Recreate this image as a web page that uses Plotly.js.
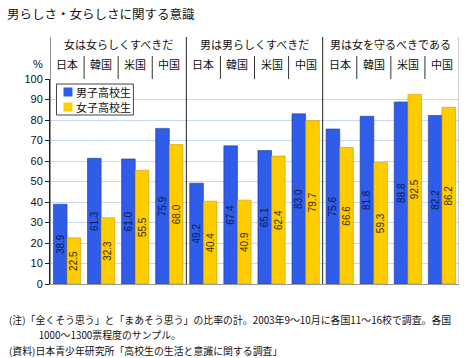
<!DOCTYPE html>
<html><head><meta charset="utf-8">
<script src="https://cdn.plot.ly/plotly-3.0.1.min.js"></script>
<style>body{margin:0;background:#fff}#c{width:474px;height:358px}</style>
</head><body><div id="c"></div>
<script>
const groups = ["女は女らしくすべきだ","男は男らしくすべきだ","男は女を守るべきである"];
const countries = ["日本","韓国","米国","中国"];
const boys  = [38.9,61.3,61.0,75.9, 49.2,67.4,65.1,83.0, 75.6,81.8,88.8,82.2];
const girls = [22.5,32.3,55.5,68.0, 40.4,40.9,62.4,79.7, 66.6,59.3,92.5,86.2];
const seriesNames = ["男子高校生","女子高校生"];
const yTicks = [0,10,20,30,40,50,60,70,80,90,100];
const notes = [
  "(注)「全くそう思う」と「まあそう思う」の比率の計。2003年9～10月に各国11～16校で調査。各国",
  "　　　1000～1300票程度のサンプル。",
  "(資料)日本青少年研究所「高校生の生活と意識に関する調査」"
];

const F = "Liberation Sans, Arial, Noto Sans CJK JP, sans-serif";
const JF = "Noto Sans CJK JP, sans-serif";
const xs = boys.map((_, i) => i);
const PT = 79, PB = 284, PL = 49.5, PR = 459, PH = PB - PT, PW = PR - PL;
const py = p => (PB - p) / PH;
const px = p => (p - PL) / PW;
const colors = [['#2F5CE8', '#1E3C9A', '#0A1A55'], ['#FFCC00', '#C89A00', '#3A2A00']];

const mk = (vals, name, c) => ({
  type: 'bar', x: xs, y: vals, name: name,
  marker: {color: c[0], line: {color: c[1], width: 0.6}},
  text: vals.map(v => v.toFixed(1)), textposition: 'inside', insidetextanchor: 'middle',
  textangle: -90, constraintext: 'none',
  textfont: {family: F, size: 10, color: c[2]},
  hoverinfo: 'skip'
});

const data = [mk(boys, seriesNames[0], colors[0]), mk(girls, seriesNames[1], colors[1])];

const shapes = [];
const annotations = [];
[-0.5, 3.5, 7.5].forEach(x => shapes.push({type:'line', xref:'x', yref:'paper', x0:x, x1:x, y0:py(37), y1:0, line:{color:'#222', width:1}}));
shapes.push({type:'line', xref:'x', yref:'paper', x0:11.5, x1:11.5, y0:py(37), y1:0, line:{color:'#999', width:1}});
groups.forEach((g, gi) => {
  [0.5,1.5,2.5].forEach(o => shapes.push({type:'line', xref:'x', yref:'paper', x0:gi*4+o, x1:gi*4+o, y0:py(56), y1:1, line:{color:'#333', width:1}}));
  annotations.push({xref:'x', yref:'paper', x: gi*4+1.5, y: py(44), xanchor:'center', yanchor:'middle', text: g, showarrow:false, font:{family:JF, size:11, color:'#111'}});
  countries.forEach((c, ci) => annotations.push({xref:'x', yref:'paper', x: gi*4+ci, y: py(64), xanchor:'center', yanchor:'middle', text: c, showarrow:false, font:{family:JF, size:11, color:'#111'}}));
});
annotations.push({xref:'paper', yref:'paper', x:px(37), y:py(64), text:'%', showarrow:false, xanchor:'center', yanchor:'middle', font:{family:F, size:11, color:'#111'}});
notes.forEach((t, i) => annotations.push({xref:'paper', yref:'paper', x:px(6), y:py([320,335,351][i]), text:t, showarrow:false, xanchor:'left', yanchor:'middle', font:{family:JF, size:9.9, color:'#111'}}));

// legend box (drawn manually for compact layout)
shapes.push({type:'rect', xref:'paper', yref:'paper', x0:px(56), x1:px(133), y0:py(84), y1:py(115), fillcolor:'#fff', line:{color:'#444', width:1}, layer:'above'});
seriesNames.forEach((n, i) => {
  const cy = [92, 107][i];
  shapes.push({type:'rect', xref:'paper', yref:'paper', x0:px(63), x1:px(72), y0:py(cy+4.5), y1:py(cy-4.5), fillcolor:colors[i][0], line:{width:0}, layer:'above'});
  annotations.push({xref:'paper', yref:'paper', x:px(74), y:py(cy), xanchor:'left', yanchor:'middle', text:n, showarrow:false, font:{family:JF, size:11, color:'#111'}});
});

const layout = {
  width: 474, height: 358,
  margin: {l: PL, r: 474 - PR, t: PT, b: 358 - PB},
  paper_bgcolor: '#fff', plot_bgcolor: '#fff',
  title: {text: '男らしさ・女らしさに関する意識', xref:'container', yref:'container', x: 7/474, xanchor:'left', y: 1 - 15/358, yanchor:'middle', font:{family:JF, size:12.5, color:'#111'}},
  barmode: 'group', bargap: 0.2, bargroupgap: 0,
  showlegend: false,
  xaxis: {range:[-0.5, 11.5], showticklabels:false, showgrid:false, zeroline:false, ticks:'', showline:true, linecolor:'#999', linewidth:1},
  yaxis: {range:[0, 100], tickvals: yTicks, ticks:'outside', ticklen:4, tickcolor:'#222', tickfont:{family:F, size:11, color:'#111'},
    showgrid:true, gridcolor:'#C8D8F0', gridwidth:1, zeroline:false, showline:true, linecolor:'#222', linewidth:1},
  shapes: shapes, annotations: annotations
};
Plotly.newPlot('c', data, layout, {displayModeBar:false, staticPlot:true});
</script></body></html>
